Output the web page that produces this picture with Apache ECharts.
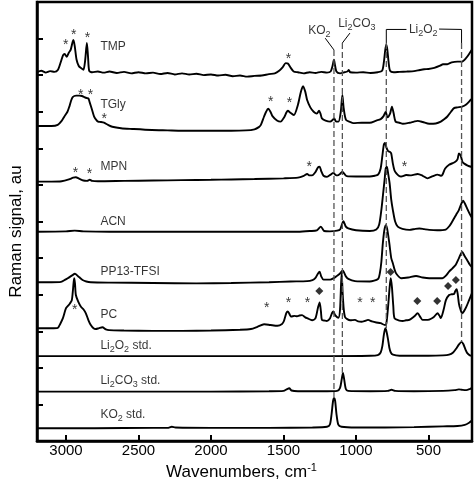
<!DOCTYPE html>
<html><head><meta charset="utf-8">
<script src="https://cdn.jsdelivr.net/npm/echarts@6/dist/echarts.min.js"></script>
<style>html,body{margin:0;padding:0;background:#fff}#c{width:474px;height:486px}</style>
</head><body><div id="c"></div>
<script>
const xTicks = [500, 1000, 1500, 2000, 2500, 3000];

const tmp = [[3200,10.08],[3170,10.12],[3140,10.07],[3110,10.11],[3080,10.09],[3055,10.15],[3036,10.36],[3020,10.55],[3009,10.58],[2995,10.50],[2980,10.62],[2968,10.69],[2955,10.90],[2949,10.96],[2940,10.80],[2927,10.42],[2912,10.25],[2899,10.2],[2880,10.15],[2868,10.4],[2856,10.88],[2848,10.5],[2840,10.12],[2820,10.08],[2780,10.1],[2740,10.07],[2700,10.1],[2650,10.06],[2600,10.09],[2550,10.05],[2500,10.08],[2450,10.05],[2400,10.07],[2350,10.03],[2300,10.06],[2250,10.02],[2200,10.05],[2150,10.02],[2100,10.04],[2050,10.0],[2000,10.02],[1950,9.99],[1900,10.01],[1850,9.97],[1800,9.99],[1750,9.96],[1700,9.98],[1650,9.99],[1600,10.03],[1560,10.05],[1530,10.12],[1505,10.22],[1485,10.33],[1470,10.32],[1450,10.2],[1430,10.1],[1400,10.08],[1360,10.05],[1320,10.08],[1280,10.06],[1240,10.09],[1200,10.07],[1175,10.1],[1162,10.25],[1152,10.42],[1145,10.28],[1135,10.1],[1110,10.05],[1080,10.08],[1060,10.1],[1050,10.14],[1040,10.08],[1000,10.07],[950,10.08],[900,10.06],[850,10.08],[820,10.12],[808,10.35],[798,10.7],[791,10.83],[784,10.7],[775,10.35],[765,10.12],[740,10.08],[700,10.09],[650,10.1],[600,10.11],[560,10.14],[530,10.16],[500,10.17],[460,10.2],[420,10.26],[400,10.3],[370,10.3],[340,10.35],[300,10.37],[270,10.37],[240,10.47],[220,10.58],[200,10.7]];

const tgly = [[3200,8.61],[3100,8.61],[3057,8.64],[3030,8.75],[3011,8.87],[2990,9.0],[2977,9.14],[2965,9.3],[2954,9.40],[2930,9.44],[2908,9.44],[2890,9.43],[2874,9.40],[2855,9.37],[2845,9.36],[2836,9.25],[2820,9.05],[2806,8.87],[2790,8.77],[2779,8.73],[2760,8.72],[2738,8.70],[2710,8.64],[2681,8.59],[2620,8.55],[2544,8.53],[2408,8.50],[2300,8.49],[2200,8.48],[2000,8.48],[1861,8.48],[1760,8.49],[1700,8.52],[1670,8.58],[1656,8.64],[1634,8.87],[1620,9.0],[1606,9.08],[1590,9.0],[1576,8.88],[1545,8.76],[1520,8.73],[1495,8.85],[1480,8.98],[1470,9.03],[1455,8.98],[1429,8.91],[1400,9.2],[1380,9.55],[1365,9.70],[1350,9.55],[1337,9.32],[1315,9.12],[1292,9.00],[1270,8.95],[1255,9.03],[1245,8.95],[1235,8.82],[1210,8.76],[1178,8.73],[1160,8.78],[1150,8.82],[1140,8.74],[1121,8.73],[1105,9.0],[1094,9.46],[1085,9.1],[1069,8.78],[1040,8.72],[1019,8.69],[960,8.70],[905,8.70],[860,8.76],[830,8.8],[810,8.88],[795,9.0],[783,8.85],[765,8.95],[752,9.14],[740,8.95],[727,8.73],[700,8.70],[677,8.67],[630,8.7],[600,8.73],[575,8.75],[540,8.72],[495,8.67],[450,8.68],[415,8.73],[390,8.8],[370,8.87],[345,9.0],[324,9.10],[300,9.12],[268,9.14],[240,9.2],[210,9.32],[200,9.36]];

const mpn = [[3200,7.09],[3100,7.09],[3030,7.1],[2980,7.15],[2950,7.2],[2932,7.21],[2910,7.17],[2880,7.12],[2855,7.11],[2836,7.14],[2820,7.11],[2780,7.1],[2600,7.11],[2400,7.12],[2200,7.13],[2000,7.14],[1861,7.15],[1700,7.16],[1500,7.18],[1400,7.2],[1360,7.25],[1337,7.30],[1320,7.26],[1303,7.26],[1280,7.35],[1262,7.48],[1251,7.50],[1240,7.38],[1224,7.25],[1200,7.22],[1175,7.28],[1156,7.33],[1140,7.27],[1128,7.26],[1110,7.3],[1094,7.36],[1080,7.3],[1064,7.24],[1000,7.23],[905,7.23],[870,7.25],[848,7.28],[830,7.45],[818,7.8],[808,8.1],[800,8.15],[790,8.02],[778,7.92],[765,7.9],[757,7.86],[746,7.59],[735,7.4],[723,7.32],[705,7.25],[689,7.23],[654,7.27],[620,7.26],[575,7.30],[540,7.25],[507,7.18],[470,7.24],[438,7.28],[415,7.25],[404,7.28],[385,7.45],[358,7.55],[320,7.62],[300,7.7],[290,7.86],[278,7.8],[265,7.62],[256,7.59],[230,7.53],[200,7.49]];

const acn = [[3200,5.72],[3000,5.73],[2940,5.75],[2880,5.73],[2700,5.72],[2400,5.72],[2000,5.72],[1600,5.72],[1400,5.72],[1315,5.74],[1270,5.76],[1242,5.86],[1220,5.74],[1180,5.73],[1130,5.75],[1110,5.78],[1087,6.01],[1070,5.86],[1053,5.81],[1000,5.76],[905,5.74],[860,5.78],[840,5.92],[825,6.32],[812,6.8],[803,7.13],[795,7.45],[787,7.50],[778,7.3],[768,7.04],[757,6.6],[746,6.32],[730,6.0],[712,5.86],[680,5.8],[632,5.77],[590,5.8],[563,5.81],[530,5.79],[495,5.77],[440,5.76],[381,5.78],[355,5.88],[336,6.00],[310,6.18],[290,6.32],[272,6.5],[261,6.57],[250,6.5],[234,6.36],[215,6.2],[200,6.1]];

const pp13 = [[3200,4.34],[3100,4.34],[3034,4.35],[3005,4.41],[2988,4.45],[2960,4.52],[2938,4.57],[2910,4.48],[2886,4.40],[2860,4.36],[2829,4.34],[2700,4.33],[2400,4.32],[2100,4.31],[1861,4.32],[1600,4.34],[1451,4.36],[1337,4.37],[1300,4.40],[1281,4.45],[1262,4.58],[1251,4.63],[1240,4.5],[1224,4.41],[1178,4.41],[1150,4.46],[1133,4.51],[1110,4.58],[1092,4.66],[1070,4.5],[1053,4.43],[1007,4.37],[905,4.36],[848,4.43],[835,4.6],[825,4.9],[815,5.4],[805,5.75],[795,5.9],[785,5.8],[770,5.4],[757,5.0],[746,4.86],[735,4.7],[723,4.58],[689,4.45],[640,4.47],[586,4.51],[540,4.47],[495,4.45],[450,4.45],[404,4.45],[380,4.52],[358,4.63],[335,4.72],[313,4.81],[290,5.0],[268,5.17],[250,5.05],[234,4.95],[215,4.82],[200,4.75]];

const pc = [[3200,3.08],[3100,3.08],[3057,3.09],[3040,3.2],[3022,3.35],[3000,3.63],[2985,3.7],[2973,3.76],[2960,3.85],[2954,4.04],[2947,4.35],[2943,4.45],[2938,4.3],[2932,3.99],[2915,3.8],[2897,3.67],[2880,3.6],[2863,3.49],[2845,3.3],[2829,3.17],[2810,3.08],[2795,3.06],[2775,3.08],[2749,3.11],[2725,3.05],[2703,3.03],[2600,3.02],[2400,3.01],[2200,3.01],[2000,3.02],[1800,3.04],[1725,3.06],[1680,3.12],[1634,3.19],[1590,3.17],[1542,3.15],[1510,3.2],[1497,3.28],[1480,3.5],[1470,3.54],[1455,3.44],[1447,3.4],[1425,3.42],[1406,3.41],[1390,3.43],[1372,3.44],[1350,3.38],[1333,3.35],[1303,3.30],[1280,3.35],[1262,3.65],[1251,3.79],[1242,3.55],[1235,3.31],[1215,3.29],[1201,3.28],[1180,3.35],[1165,3.5],[1156,3.54],[1145,3.45],[1121,3.37],[1110,3.6],[1099,4.6],[1090,3.9],[1076,3.39],[1040,3.3],[1007,3.31],[985,3.27],[962,3.26],[940,3.28],[917,3.31],[890,3.27],[860,3.24],[830,3.22],[800,3.17],[791,3.2],[778,3.7],[767,4.25],[760,4.45],[752,4.2],[743,3.7],[734,3.35],[700,3.29],[677,3.28],[655,3.3],[632,3.31],[600,3.4],[575,3.49],[555,3.38],[541,3.31],[520,3.31],[495,3.32],[465,3.38],[438,3.49],[425,3.43],[415,3.36],[395,3.6],[380,3.85],[358,3.99],[340,4.01],[324,4.02],[315,4.1],[306,4.15],[298,4.0],[290,3.75],[280,3.6],[268,3.49],[255,3.55],[241,3.65],[220,3.85],[200,4.04]];

const li2o2Std = [[3200,2.32],[2800,2.32],[2400,2.32],[2000,2.32],[1600,2.32],[1200,2.32],[900,2.33],[850,2.35],[830,2.42],[818,2.6],[808,2.9],[798,3.08],[790,3.0],[780,2.8],[770,2.55],[760,2.42],[745,2.36],[700,2.33],[600,2.33],[500,2.33],[400,2.34],[358,2.36],[330,2.42],[310,2.52],[290,2.64],[272,2.71],[260,2.65],[245,2.5],[234,2.41],[215,2.34],[200,2.33]];

const li2co3Std = [[3200,1.35],[2800,1.35],[2400,1.35],[2000,1.35],[1600,1.36],[1500,1.37],[1475,1.42],[1460,1.44],[1445,1.38],[1400,1.36],[1200,1.36],[1130,1.37],[1110,1.45],[1098,1.7],[1090,1.86],[1082,1.7],[1070,1.42],[1055,1.37],[900,1.36],[780,1.37],[755,1.4],[730,1.37],[600,1.36],[400,1.37],[320,1.39],[290,1.41],[270,1.4],[240,1.39],[215,1.42],[200,1.45]];

const ko2Std = [[3200,0.35],[2800,0.35],[2400,0.36],[2300,0.36],[2270,0.39],[2245,0.37],[2000,0.36],[1600,0.36],[1300,0.37],[1200,0.39],[1180,0.45],[1168,0.75],[1158,1.1],[1151,1.17],[1144,1.1],[1135,0.75],[1122,0.45],[1100,0.39],[1000,0.37],[800,0.37],[600,0.38],[400,0.4],[300,0.41],[250,0.44],[220,0.5],[200,0.56]];

const traces = [tmp, tgly, mpn, acn, pp13, pc, li2o2Std, li2co3Std, ko2Std];

// trace names: [text, wavenumber, signal]
const traceNames = [
  ['TMP', 2763, 10.77], ['TGly', 2763, 9.2], ['MPN', 2763, 7.49], ['ACN', 2763, 5.99],
  ['PP13-TFSI', 2763, 4.62], ['PC', 2763, 3.44],
  ['Li{s|2}O{s|2} std.', 2763, 2.6], ['Li{s|2}CO{s|3} std.', 2763, 1.65], ['KO{s|2} std.', 2763, 0.72]
];

const stars = [[3002,10.91],[2947,11.18],[2852,11.10],[1465,10.52],
  [2899,9.54],[2831,9.54],[2736,8.89],[1588,9.35],[1458,9.32],
  [2934,7.41],[2838,7.38],[1322,7.57],[666,7.57],
  [2940,3.66],[1615,3.72],[1465,3.85],[1335,3.85],[973,3.85],[884,3.85]];
const circles = [[2940,4.73],[1458,4.84],[1328,4.84],[1240,4.84],[1021,4.84]];
const diamonds = [[1253,4.10],[761,4.62],[577,3.83],[440,3.83],[365,4.24],[311,4.40]];

// reference lines: [wavenumber, top, bottom]
const refLines = [[1152,10.69,1.17],[1094,10.88,1.86],[791,10.88,3.09],[272,10.88,2.71]];
// leader lines and bracket
const leaders = [
  [[1212,11.01],[1152,10.69]],
  [[1042,11.15],[1094,10.88]],
  [[791,10.88],[791,11.25],[652,11.25]],
  [[427,11.26],[272,11.25],[272,10.88]]
];
const refNames = [['KO{s|2}', 1253, 11.21], ['Li{s|2}CO{s|3}', 994, 11.40], ['Li{s|2}O{s|2}', 536, 11.24]];

const FONT = 'Liberation Sans, Arial, Helvetica, sans-serif';
const richSub = { s: { fontSize: 9, padding: [7, 0, 0, 0], fontFamily: FONT, color: '#000' } };

const series = [];
traces.forEach(d => series.push({
  type: 'line', data: d, symbol: 'none', smooth: 0.25, silent: true,
  lineStyle: { color: '#000', width: 1.9 }
}));
refLines.forEach(r => series.push({
  type: 'line', data: [[r[0], r[1]], [r[0], r[2]]], symbol: 'none', silent: true,
  lineStyle: { color: '#555', width: 1.3, type: [6, 3] }
}));
leaders.forEach(l => series.push({
  type: 'line', data: l, symbol: 'none', silent: true,
  lineStyle: { color: '#000', width: 1 }
}));
series.push({
  type: 'scatter', silent: true, symbol: 'circle', symbolSize: 0.1,
  itemStyle: { color: 'transparent' },
  data: traceNames.map(t => ({ value: [t[1], t[2]], name: t[0] })),
  label: { show: true, position: 'right', distance: 0, formatter: p => p.name,
    color: '#000', fontSize: 12, fontFamily: FONT, rich: richSub }
});
series.push({
  type: 'scatter', silent: true, symbol: 'circle', symbolSize: 0.1,
  itemStyle: { color: 'transparent' },
  data: refNames.map(t => ({ value: [t[1], t[2]], name: t[0] })),
  label: { show: true, position: 'inside', formatter: p => p.name,
    color: '#000', fontSize: 12, fontFamily: FONT, rich: richSub }
});
series.push({
  type: 'scatter', silent: true, symbol: 'circle', symbolSize: 0.1,
  itemStyle: { color: 'transparent' },
  data: stars,
  label: { show: true, position: 'inside', formatter: '*', offset: [0, 3],
    color: '#000', fontSize: 14, fontFamily: FONT }
});
series.push({
  type: 'scatter', silent: true, symbol: 'emptyCircle', symbolSize: 6,
  itemStyle: { color: '#fff', borderColor: '#000', borderWidth: 1.6 },
  data: circles
});
series.push({
  type: 'scatter', silent: true, symbol: 'diamond', symbolSize: 8,
  itemStyle: { color: '#000' },
  data: diamonds
});

const chart = echarts.init(document.getElementById('c'), null, { renderer: 'canvas' });
chart.setOption({
  animation: false,
  backgroundColor: '#fff',
  grid: { left: 34, right: 2, top: 2, bottom: 45, show: true, borderColor: '#000', borderWidth: 2.5 },
  xAxis: {
    type: 'value', min: 200, max: 3200, inverse: true,
    name: 'Wavenumbers, cm{sup|-1}', nameLocation: 'middle', nameGap: 20,
    nameTextStyle: { fontSize: 17, color: '#000', fontFamily: FONT, padding: [0, 26, 0, 0],
      rich: { sup: { fontSize: 11, padding: [0, 0, 8, 0], fontFamily: FONT, color: '#000' } } },
    axisLine: { show: true, lineStyle: { color: '#000', width: 2.5 } },
    axisTick: { show: true, inside: true, length: 6, customValues: xTicks, lineStyle: { color: '#000', width: 2 } },
    axisLabel: { show: true, customValues: xTicks, margin: 2, fontSize: 15, color: '#000', fontFamily: FONT,
      formatter: v => String(v) },
    splitLine: { show: false }
  },
  yAxis: {
    type: 'value', min: 0, max: 12, interval: 1,
    name: 'Raman signal, au', nameLocation: 'middle', nameGap: 12,
    nameTextStyle: { fontSize: 17, color: '#000', fontFamily: FONT, padding: [0, 20, 0, 0] },
    axisLine: { show: true, lineStyle: { color: '#000', width: 2.5 } },
    axisTick: { show: true, inside: true, length: 6, lineStyle: { color: '#000', width: 2 } },
    axisLabel: { show: false },
    splitLine: { show: false }
  },
  series: series
});
</script></body></html>
